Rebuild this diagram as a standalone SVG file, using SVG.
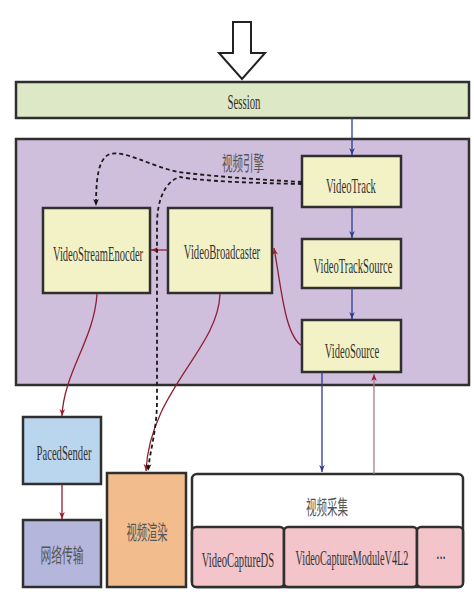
<svg xmlns="http://www.w3.org/2000/svg" width="474" height="594" viewBox="0 0 474 594">
<defs>
<style>
.bx{stroke:#2f2f2f;stroke-width:2.5}
.node{fill:#f3f2c6}
.lt{font-family:"Liberation Serif",serif;font-size:21px;fill:#333;text-anchor:middle}
.ct{font-family:"Noto Sans CJK SC",sans-serif;font-size:20px;fill:#555;text-anchor:middle}
.blue{stroke:#2e3d8f;stroke-width:1.3;fill:none}
.red{stroke:#8e1f32;stroke-width:1.3;fill:none}
.dash{stroke:#1a1a1a;stroke-width:1.8;fill:none;stroke-dasharray:4 3}
</style>
<marker id="ab" viewBox="0 0 10 10" refX="10" refY="5" markerWidth="9" markerHeight="7" markerUnits="userSpaceOnUse" orient="auto"><path d="M0,1 L10,5 L0,9 L3,5 Z" fill="#2e3d8f"/></marker>
<marker id="ar" viewBox="0 0 10 10" refX="10" refY="5" markerWidth="9" markerHeight="7" markerUnits="userSpaceOnUse" orient="auto"><path d="M0,1 L10,5 L0,9 L3,5 Z" fill="#9b1b30"/></marker>
<marker id="ak" viewBox="0 0 10 10" refX="10" refY="5" markerWidth="9" markerHeight="7" markerUnits="userSpaceOnUse" orient="auto"><path d="M0,1 L10,5 L0,9 L3,5 Z" fill="#111"/></marker>
</defs>
<rect width="474" height="594" fill="#fff"/>

<g id="input-arrow">
<polygon points="233,22 251,22 251,53 265,53 242,79 219,53 233,53" fill="#fff" stroke="#222" stroke-width="2"/>
</g>

<g id="session">
<rect class="bx" x="16" y="82" width="453" height="36" fill="#dde8c7"/>
<text class="lt" transform="translate(244,109) scale(0.514,1)">Session</text>
</g>

<g id="video-engine">
<rect class="bx" x="16" y="139" width="453" height="246" fill="#cfbedc" stroke-width="3"/>
<text class="ct" transform="translate(243,171) scale(0.525,1)">视频引擎</text>
</g>

<g id="VideoTrack">
<rect class="bx node" x="302" y="156" width="99" height="51"/>
<text class="lt" transform="translate(351,193) scale(0.508,1)">VideoTrack</text>
</g>
<g id="VideoTrackSource">
<rect class="bx node" x="302" y="239" width="99" height="49"/>
<text class="lt" transform="translate(353,273) scale(0.504,1)">VideoTrackSource</text>
</g>
<g id="VideoSource">
<rect class="bx node" x="302" y="320" width="99" height="52"/>
<text class="lt" transform="translate(352,358) scale(0.502,1)">VideoSource</text>
</g>
<g id="VideoStreamEnocder">
<rect class="bx node" x="43" y="208" width="107" height="85"/>
<text class="lt" transform="translate(98,261) scale(0.503,1)">VideoStreamEnocder</text>
</g>
<g id="VideoBroadcaster">
<rect class="bx node" x="168" y="208" width="104" height="85"/>
<text class="lt" transform="translate(222,259) scale(0.508,1)">VideoBroadcaster</text>
</g>

<g id="PacedSender">
<rect class="bx" x="23" y="417" width="78" height="67" fill="#bad6ee"/>
<text class="lt" transform="translate(64,460) scale(0.507,1)">PacedSender</text>
</g>
<g id="network">
<rect class="bx" x="23" y="520" width="78" height="67" fill="#b4b6dc"/>
<text class="ct" transform="translate(62,563) scale(0.54,1)">网络传输</text>
</g>
<g id="render">
<rect class="bx" x="107" y="473" width="79" height="114" fill="#f2bc8d"/>
<text class="ct" transform="translate(147,540) scale(0.515,1)">视频渲染</text>
</g>
<g id="capture">
<rect class="bx" x="192" y="474" width="271" height="113" rx="5" fill="#fff"/>
<text class="ct" transform="translate(327,515) scale(0.525,1)">视频采集</text>
</g>
<g id="VideoCaptureDS">
<rect class="bx" x="192" y="527" width="92" height="60" rx="4" fill="#f3c4c9"/>
<text class="lt" transform="translate(238,567) scale(0.505,1)">VideoCaptureDS</text>
</g>
<g id="VideoCaptureModuleV4L2">
<rect class="bx" x="284" y="527" width="133" height="60" rx="4" fill="#f3c4c9"/>
<text class="lt" transform="translate(352,565) scale(0.49,1)">VideoCaptureModuleV4L2</text>
</g>
<g id="more">
<rect class="bx" x="417" y="527" width="46" height="60" rx="4" fill="#f3c4c9"/>
<text class="lt" transform="translate(441,559) scale(0.6,1)" font-size="16">...</text>
</g>

<g id="connectors">
<path class="blue" d="M352,118 L352,155" marker-end="url(#ab)"/>
<path class="blue" d="M352,207 L352,238" marker-end="url(#ab)"/>
<path class="blue" d="M352,288 L352,319" marker-end="url(#ab)"/>
<path class="blue" d="M322,372 L322,472" marker-end="url(#ab)"/>
<path d="M374,474 L374,374" stroke="#a97b8f" stroke-width="1.3" fill="none" marker-end="url(#ar)"/>
<path class="red" d="M168,250 L151,250" marker-end="url(#ar)"/>
<path class="red" d="M302,346 C285,335 282,292 274,248" marker-end="url(#ar)"/>
<path class="red" d="M97,294 C94,340 64,372 62,416" marker-end="url(#ar)"/>
<path class="red" d="M220,294 C218,350 150,390 146,471" marker-end="url(#ar)"/>
<path class="red" d="M62,484 L62,519" marker-end="url(#ar)"/>
<path class="dash" d="M302,182 C250,179 210,176 178,172 C150,166 125,150 110,154 C98,158 96,180 96,206" marker-end="url(#ak)"/>
<path class="dash" d="M302,184 C250,183 200,181 180,177 C165,181 157,200 157,225 L157,400 C157,430 150,450 148,471" marker-end="url(#ak)"/>
</g>
</svg>
